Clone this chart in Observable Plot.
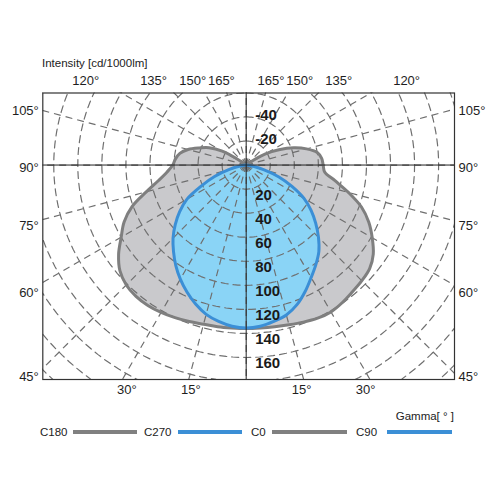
<!DOCTYPE html>
<html>
<head>
<meta charset="utf-8">
<script src="https://cdn.jsdelivr.net/npm/d3@7"></script>
<script src="https://cdn.jsdelivr.net/npm/@observablehq/plot@0.6"></script>
<style>
  body { margin: 0; background: #fff; }
  #wrap { position: relative; width: 500px; height: 500px; font-family: "Liberation Sans", Arial, sans-serif; color: #222; }
  #title { position: absolute; left: 42px; top: 55px; font-size: 11.5px; line-height: 16px; }
  #chart { position: absolute; left: 0; top: 70px; }
  #gamma { position: absolute; right: 46px; top: 408px; font-size: 11.5px; line-height: 16px; }
  .lg-text { position: absolute; top: 424px; font-size: 11.5px; line-height: 16px; }
  .lg-line { position: absolute; top: 430px; height: 4px; }
</style>
</head>
<body>
<div id="wrap">
  <div id="title">Intensity [cd/1000lm]</div>
  <div id="chart"></div>
  <div id="gamma">Gamma[ ° ]</div>
</div>
<script>
// ---- data (cd/1000lm) ----
const gammaGray = [0,5,10,15,20,25,30,35,40,45,50,55,60,65,70,75,80,85,90,95,100,105,110,115,120,125,130];
const c0   = [136,136,136.5,137.5,139,140.5,141,139.5,137.5,136,134,129,121,112.5,102,88,75,65.5,64,63,60,52,42,30,18.5,4,0];
const c180 = [136,136,136.5,137,138.5,140,141.5,142.5,142.5,141,137,129.5,120,112,101,86,74,66,61,59,56,50,41.5,34,23,6,0];
const gammaBlue = [0,5,10,15,20,25,30,35,40,45,50,55,60,65,70,75,80,85,90];
const c90  = [135.5,134.5,132,129,123.5,116,108,101,94,85,75.5,66,55.5,42,29,15.5,6,1.5,0];
const c270 = [135.5,134.5,132,128.5,123,116.5,109.5,102,94,86,77,67.5,57,41,28,15,6,1.5,0];

const circleValues = [20,40,60,80,100,120,140,160,180,200,220,240];
const radialAngles = [0,15,30,45,60,75,90,105,120,135,150,165,180,195,210,225,240,255,270,285,300,315,330,345];
const intensityLabelsDown = [20,40,60,80,100,120,140,160];
const intensityLabelsUp = [-20,-40];
const sideAngleLabels = [45,60,75,90,105];
const topAngleLabels = [120,135,150,165];
const bottomAngleLabels = [15,30];

const legendLabels = ["C180","C270","C0","C90"];
const legendColors = ["#808080","#3b8fd6","#808080","#3b8fd6"];

// ---- geometry helpers ----
const rad = d => d * Math.PI / 180;
const X = [-169.1, 173.2], Y = [-178.3, 59.9];

function shape(gammas, right, left) {
  const pts = [];
  gammas.forEach((g, i) => pts.push({x: right[i] * Math.sin(rad(g)), y: -right[i] * Math.cos(rad(g))}));
  for (let i = gammas.length - 2; i >= 1; i--) {
    const g = gammas[i];
    pts.push({x: -left[i] * Math.sin(rad(g)), y: -left[i] * Math.cos(rad(g))});
  }
  return pts;
}
const grayShape = shape(gammaGray, c0, c180);
const blueShape = shape(gammaBlue, c90, c270);

const circlePts = circleValues.flatMap(r => d3.range(0, 361, 2).map(a => ({r, x: r * Math.sin(rad(a)), y: r * Math.cos(rad(a))})));

const sideLabelDist = 179;
const sideY = g => Math.max(-173.5, -sideLabelDist * Math.cos(rad(g)) / Math.sin(rad(g)));
const topY = 70, topXDist = 77;
const topX = g => topXDist * Math.tan(rad(180 - g));
const bottomXDist = 172;

const gridStyle = {stroke: "#6f6f6f", strokeWidth: 1.2, strokeDasharray: "7,5", clip: true};
const angleFont = {fontSize: 13, fill: "#1e1e1e"};

const chart = Plot.plot({
  width: 500,
  height: 330,
  marginTop: 22.5,
  marginBottom: 21,
  marginLeft: 42.3,
  marginRight: 46,
  x: {domain: X, axis: null},
  y: {domain: Y, axis: null},
  style: {fontFamily: "'Liberation Sans', Arial, sans-serif", background: "white", overflow: "visible"},
  marks: [
    Plot.line(grayShape, {x: "x", y: "y", curve: "catmull-rom-closed", fill: "#c9c9cc", stroke: "none"}),
    Plot.line(blueShape, {x: "x", y: "y", curve: "catmull-rom-closed", fill: "#8ad4f6", stroke: "none"}),
    Plot.line(circlePts, {x: "x", y: "y", z: "r", ...gridStyle}),
    Plot.link(radialAngles, {x1: () => 0, y1: () => 0, x2: a => 320 * Math.sin(rad(a)), y2: a => -320 * Math.cos(rad(a)), ...gridStyle}),
    Plot.line(grayShape, {x: "x", y: "y", curve: "catmull-rom-closed", stroke: "#7f7f7f", strokeWidth: 3}),
    Plot.line(blueShape, {x: "x", y: "y", curve: "catmull-rom-closed", stroke: "#3b8fd6", strokeWidth: 3}),
    Plot.ruleX([0], {stroke: "#222", strokeWidth: 1}),
    Plot.ruleY([0], {stroke: "#222", strokeWidth: 1}),
    Plot.frame({stroke: "#333", strokeWidth: 1.2}),
    Plot.text(intensityLabelsDown, {x: () => 0, y: v => -v, text: v => String(v), dx: 9, dy: 6, textAnchor: "start", fontSize: 15, fontWeight: "bold", fill: "#1a1a1a"}),
    Plot.text(intensityLabelsUp, {x: () => 0, y: v => -v, text: v => String(v), dx: 9, dy: -2, textAnchor: "start", fontSize: 15, fontWeight: "bold", fill: "#1a1a1a"}),
    Plot.text(sideAngleLabels, {x: () => X[0], y: sideY, text: g => g + "°", dx: -4, dy: 3, textAnchor: "end", ...angleFont}),
    Plot.text(sideAngleLabels, {x: () => X[1], y: sideY, text: g => g + "°", dx: 4, dy: 3, textAnchor: "start", ...angleFont}),
    Plot.text(topAngleLabels, {x: g => -topX(g), y: () => topY, text: g => g + "°", ...angleFont}),
    Plot.text(topAngleLabels, {x: g => topX(g), y: () => topY, text: g => g + "°", ...angleFont}),
    Plot.text(bottomAngleLabels, {x: g => -bottomXDist * Math.tan(rad(g)), y: () => Y[0], dy: 10, text: g => g + "°", ...angleFont}),
    Plot.text(bottomAngleLabels, {x: g => bottomXDist * Math.tan(rad(g)), y: () => Y[0], dy: 10, text: g => g + "°", ...angleFont})
  ]
});
document.getElementById("chart").appendChild(chart);

// ---- legend ----
const wrap = document.getElementById("wrap");
const textLeft = [40, 144, 251, 356];
const lineSpan = [[72.7, 137.3], [178, 242], [272, 347], [387, 452]];
legendLabels.forEach((lab, i) => {
  const t = document.createElement("div");
  t.className = "lg-text";
  t.style.left = textLeft[i] + "px";
  t.textContent = lab;
  wrap.appendChild(t);
  const l = document.createElement("div");
  l.className = "lg-line";
  l.style.left = lineSpan[i][0] + "px";
  l.style.width = (lineSpan[i][1] - lineSpan[i][0]) + "px";
  l.style.background = legendColors[i];
  wrap.appendChild(l);
});
</script>
</body>
</html>
